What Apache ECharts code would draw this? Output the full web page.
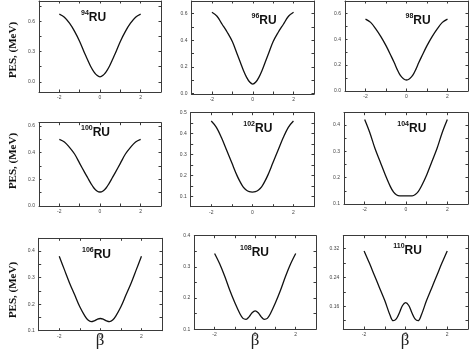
<!DOCTYPE html>
<html>
<head>
<meta charset="utf-8">
<script src="https://cdn.jsdelivr.net/npm/echarts@6/dist/echarts.min.js"></script>
<style>
  html, body { margin: 0; background: #fff; }
  #chart { width: 474px; height: 351px; }
</style>
</head>
<body>
<div id="chart"></div>
<script>
// deformation parameter beta (shared by every panel)
const beta = [-2, -1.75, -1.5, -1.25, -1, -0.75, -0.6, -0.45, -0.3, -0.15, 0,
              0.15, 0.3, 0.45, 0.6, 0.75, 1, 1.25, 1.5, 1.75, 2];

// PES values (MeV)
const ru94  = [0.67, 0.64, 0.58, 0.50, 0.40, 0.28, 0.215, 0.15, 0.10, 0.065, 0.05,
               0.065, 0.10, 0.15, 0.215, 0.28, 0.40, 0.50, 0.58, 0.64, 0.67];
const ru96  = [0.61, 0.58, 0.52, 0.46, 0.39, 0.29, 0.23, 0.17, 0.12, 0.085, 0.07,
               0.085, 0.12, 0.17, 0.23, 0.29, 0.39, 0.46, 0.52, 0.58, 0.61];
const ru98  = [0.555, 0.53, 0.48, 0.42, 0.35, 0.27, 0.22, 0.165, 0.12, 0.095, 0.085,
               0.095, 0.12, 0.165, 0.22, 0.27, 0.35, 0.42, 0.48, 0.53, 0.555];
const ru100 = [0.50, 0.48, 0.44, 0.39, 0.32, 0.25, 0.21, 0.17, 0.135, 0.113, 0.105,
               0.113, 0.135, 0.17, 0.21, 0.25, 0.32, 0.39, 0.44, 0.48, 0.50];
const ru102 = [0.46, 0.43, 0.38, 0.32, 0.26, 0.20, 0.17, 0.145, 0.13, 0.122, 0.12,
               0.122, 0.13, 0.145, 0.17, 0.20, 0.26, 0.32, 0.38, 0.43, 0.46];
const ru104 = [0.42, 0.37, 0.31, 0.26, 0.21, 0.165, 0.145, 0.134, 0.131, 0.131, 0.131,
               0.131, 0.131, 0.136, 0.148, 0.168, 0.21, 0.26, 0.31, 0.37, 0.42];
const ru106 = [0.38, 0.33, 0.28, 0.235, 0.19, 0.155, 0.14, 0.134, 0.137, 0.143, 0.146,
               0.143, 0.137, 0.134, 0.14, 0.155, 0.19, 0.235, 0.28, 0.33, 0.38];
const ru108 = [0.343, 0.31, 0.27, 0.225, 0.185, 0.15, 0.135, 0.132, 0.14, 0.153, 0.159,
               0.153, 0.14, 0.132, 0.135, 0.15, 0.185, 0.225, 0.27, 0.31, 0.343];
const ru110 = [0.313, 0.28, 0.245, 0.21, 0.175, 0.135, 0.12, 0.125, 0.142, 0.162, 0.17,
               0.162, 0.142, 0.125, 0.12, 0.135, 0.175, 0.21, 0.245, 0.28, 0.313];

// mass numbers for the panel titles
const masses = ['94', '96', '98', '100', '102', '104', '106', '108', '110'];

// tick values
const xTicks = [-2, 0, 2];
const xMinorTicks = [-2, -1, 0, 1, 2];
const yTicks = [
  [0.0, 0.3, 0.6],
  [0.0, 0.2, 0.4, 0.6],
  [0.0, 0.2, 0.4, 0.6],
  [0.0, 0.2, 0.4, 0.6],
  [0.1, 0.2, 0.3, 0.4, 0.5],
  [0.1, 0.2, 0.3, 0.4],
  [0.1, 0.2, 0.3, 0.4],
  [0.1, 0.2, 0.3, 0.4],
  [0.16, 0.24, 0.32]
];
const yRanges = [
  [-0.1, 0.8], [-0.005, 0.695], [0, 0.695],
  [0, 0.625], [0.05, 0.5], [0.1, 0.446],
  [0.1, 0.448], [0.1, 0.4], [0.097, 0.355]
];

const seriesData = [ru94, ru96, ru98, ru100, ru102, ru104, ru106, ru108, ru110];

// --- layout (pixel boxes: left, top, right, bottom) ---
const boxes = [
  [39, 1, 161, 92], [191.5, 1, 314, 94], [345, 1, 468, 91],
  [39, 122.7, 161, 206], [190.7, 112.7, 314, 206.7], [344, 112.7, 468, 204],
  [38.7, 238.3, 162, 330.7], [194.3, 235.7, 316, 329.3], [343.3, 235.7, 468, 329]
];
const titlePos = [
  [81, 10], [251.5, 13], [405.5, 13],
  [81, 124.5], [243.3, 121], [397.3, 121],
  [82, 247], [240, 244.5], [393.3, 243]
];
const digits = [1, 1, 1, 1, 1, 1, 1, 1, 2];

const frameColor = '#3a3a3a';
const tickFont = { fontSize: 5, color: '#444', fontFamily: 'Liberation Sans, Arial, sans-serif' };

const grid = [], xAxis = [], yAxis = [], series = [], title = [];

seriesData.forEach((data, i) => {
  const [l, t, r, b] = boxes[i];
  grid.push({ left: l, top: t, width: r - l, height: b - t, show: false });

  const line = { show: true, onZero: false, lineStyle: { color: frameColor, width: 1 } };
  const xTick = { show: true, inside: true, length: 2.5, customValues: xMinorTicks, lineStyle: { color: frameColor } };

  // minor y ticks at half steps between labels
  const yt = yTicks[i];
  const step = yt[1] - yt[0];
  const [ymin, ymax] = yRanges[i];
  const yMinor = [];
  for (let v = yt[0] - step; v <= ymax + 1e-9; v += step / 2) {
    if (v >= ymin - 1e-9) yMinor.push(+v.toFixed(4));
  }
  const yTick = { show: true, inside: true, length: 2.5, customValues: yMinor, lineStyle: { color: frameColor } };

  xAxis.push({
    gridIndex: i, type: 'value', min: -3, max: 3, position: 'bottom',
    axisLine: line, axisTick: xTick, splitLine: { show: false },
    axisLabel: { ...tickFont, margin: 3, customValues: xTicks }
  });
  xAxis.push({
    gridIndex: i, type: 'value', min: -3, max: 3, position: 'top',
    axisLine: line, axisTick: xTick, splitLine: { show: false },
    axisLabel: { show: false }
  });
  yAxis.push({
    gridIndex: i, type: 'value', min: ymin, max: ymax, position: 'left',
    axisLine: line, axisTick: yTick, splitLine: { show: false },
    axisLabel: { ...tickFont, margin: 4, customValues: yt, formatter: (v) => v.toFixed(digits[i]) }
  });
  yAxis.push({
    gridIndex: i, type: 'value', min: ymin, max: ymax, position: 'right',
    axisLine: line, axisTick: yTick, splitLine: { show: false },
    axisLabel: { show: false }
  });

  series.push({
    type: 'line',
    xAxisIndex: 2 * i,
    yAxisIndex: 2 * i,
    data: beta.map((x, k) => [x, data[k]]),
    showSymbol: false,
    smooth: 0.35,
    silent: true,
    lineStyle: { color: '#111', width: 1.3 }
  });

  title.push({
    left: titlePos[i][0],
    top: titlePos[i][1],
    padding: 0,
    text: '{s|' + masses[i] + '}{b|RU}',
    textStyle: {
      rich: {
        s: { fontSize: 7, fontWeight: 'bold', color: '#111', fontFamily: 'Liberation Sans, Arial', verticalAlign: 'top', lineHeight: 14 },
        b: { fontSize: 12, fontWeight: 'bold', color: '#111', fontFamily: 'Liberation Sans, Arial', verticalAlign: 'bottom', lineHeight: 14 }
      }
    }
  });
});

const yTitleY = [50, 161, 290];
const betaX = [100, 255, 405];
const graphic = [];
yTitleY.forEach((y) => {
  graphic.push({
    type: 'text', x: 13, y: y, rotation: Math.PI / 2,
    style: {
      text: 'PES, (MeV)', fill: '#111',
      font: 'bold 11px "Liberation Serif", "Times New Roman", serif',
      textAlign: 'center', textVerticalAlign: 'middle', align: 'center', verticalAlign: 'middle'
    }
  });
});
betaX.forEach((x) => {
  graphic.push({
    type: 'text', x: x, y: 341,
    style: {
      text: 'β', fill: '#222',
      font: '17px "Liberation Serif", "Times New Roman", serif',
      textAlign: 'center', textVerticalAlign: 'middle', align: 'center', verticalAlign: 'middle'
    }
  });
});

const chart = echarts.init(document.getElementById('chart'));
chart.setOption({
  animation: false,
  backgroundColor: '#fff',
  title, grid, xAxis, yAxis, series, graphic
});
</script>
</body>
</html>
